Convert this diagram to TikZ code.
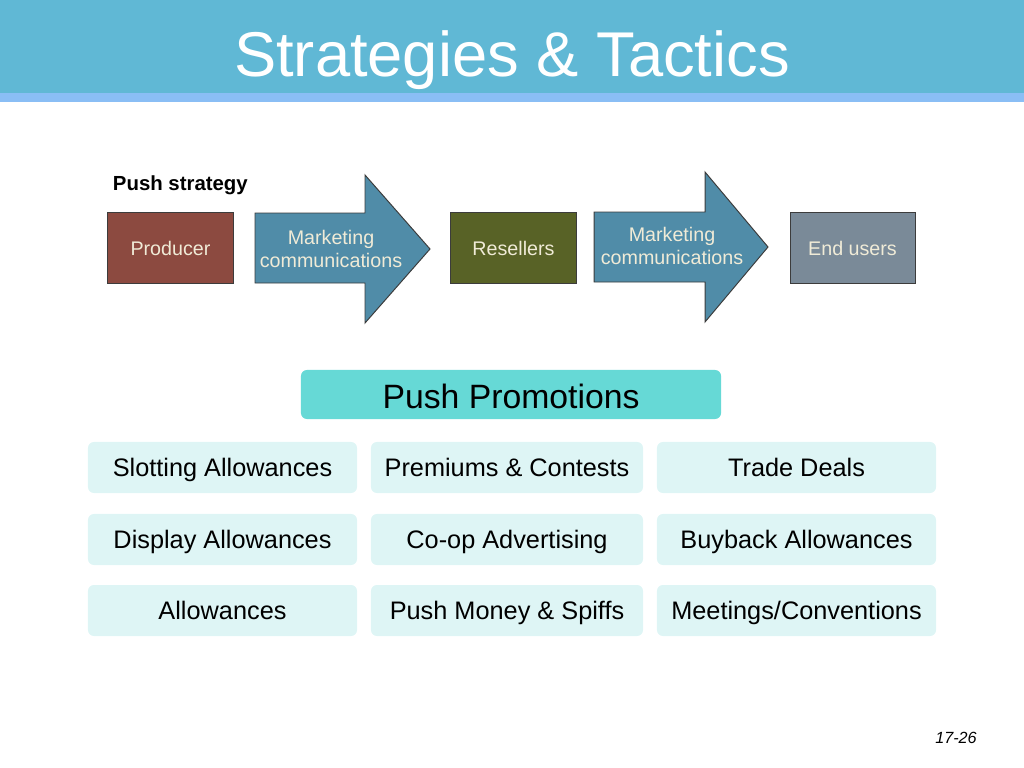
\documentclass[tikz,border=0pt]{standalone}
\usepackage{fontspec}
\setmainfont{Liberation Sans}
\usepackage{xcolor}
\usetikzlibrary{positioning}

\definecolor{headblue}{RGB}{96,184,213}
\definecolor{stripeblue}{RGB}{138,190,245}
\definecolor{promoteal}{RGB}{102,217,214}
\definecolor{tilecyan}{RGB}{222,245,245}
\definecolor{prodred}{RGB}{140,74,64}
\definecolor{arrowblue}{RGB}{80,140,168}
\definecolor{reselolive}{RGB}{88,98,38}
\definecolor{usergray}{RGB}{122,138,152}
\definecolor{creamtext}{RGB}{240,235,215}
\definecolor{edgegray}{RGB}{60,60,60}

\tikzset{
  flowbox/.style={draw=edgegray, line width=0.7pt, minimum width=3.125cm, minimum height=1.75cm,
    text=creamtext, font=\fontsize{14}{17}\selectfont},
  flowtext/.style={text=creamtext, align=center, font=\fontsize{14}{17}\selectfont},
  tile/.style={fill=tilecyan, rounded corners=0.15cm, minimum height=1.275cm,
    text height=13.4pt, text depth=0pt, font=\fontsize{18}{18}\selectfont},
}

\begin{document}
\begin{tikzpicture}[x=0.025cm, y=-0.025cm]
  \useasboundingbox (0,0) rectangle (1024,768);
  % header band
  \fill[headblue] (0,0) rectangle (1024,93);
  \fill[stripeblue] (0,93) rectangle (1024,102);
  \node[anchor=base, text=white, font=\fontsize{45}{45}\selectfont] (title) at (512,77) {Strategies \& Tactics};

  % push strategy flow
  \node[anchor=base west, font=\bfseries\fontsize{14.5}{14.5}\selectfont] (pushlbl) at (108,191) {Push strategy};
  \node[flowbox, fill=prodred] (producer) at (170.5,248) {Producer};
  \draw[draw=edgegray, line width=0.7pt, fill=arrowblue]
    (255,213) -- (365,213) -- (365,175) -- (430,249) -- (365,323) -- (365,283) -- (255,283) -- cycle;
  \node[flowtext] (mcom1) at (331,249) {Marketing\\communications};
  \node[flowbox, fill=reselolive] (resellers) at (513.5,248) {Resellers};
  \draw[draw=edgegray, line width=0.7pt, fill=arrowblue]
    (594,212) -- (705,212) -- (705,172) -- (768,247) -- (705,322) -- (705,282) -- (594,282) -- cycle;
  \node[flowtext] (mcom2) at (672,246) {Marketing\\communications};
  \node[flowbox, fill=usergray] (endusers) at (852.5,248) {End users};

  % push promotions
  \node[fill=promoteal, rounded corners=0.15cm, minimum width=10.5cm, minimum height=1.225cm,
    text height=19.2pt, text depth=0pt, font=\fontsize{24}{24}\selectfont] (promo) at (511,394.5) {Push Promotions};

  \node[tile, minimum width=6.725cm] (slot) at (222.5,467.5) {Slotting Allowances};
  \node[tile, minimum width=6.8cm] (prem) at (507,467.5) {Premiums \& Contests};
  \node[tile, minimum width=6.975cm] (trade) at (796.5,467.5) {Trade Deals};
  \node[tile, minimum width=6.725cm] (disp) at (222.5,539.5) {Display Allowances};
  \node[tile, minimum width=6.8cm] (coop) at (507,539.5) {Co-op Advertising};
  \node[tile, minimum width=6.975cm] (buyback) at (796.5,539.5) {Buyback Allowances};
  \node[tile, minimum width=6.725cm] (allow) at (222.5,610.5) {Allowances};
  \node[tile, minimum width=6.8cm] (spiff) at (507,610.5) {Push Money \& Spiffs};
  \node[tile, minimum width=6.975cm] (meet) at (796.5,610.5) {Meetings/Conventions};

  \node[anchor=base, font=\itshape\fontsize{11.5}{12}\selectfont] (slideno) at (956,743) {17-26};
\end{tikzpicture}
\end{document}
